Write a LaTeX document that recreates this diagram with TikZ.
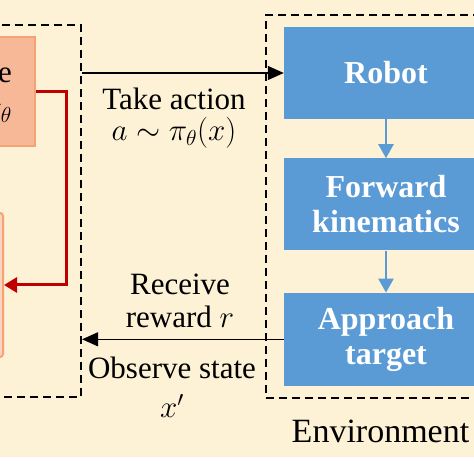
\RequirePackage{fix-cm}
\documentclass[tikz,border=0pt]{standalone}
\usepackage{fontspec}
\setmainfont{Liberation Serif}
\usepackage{xcolor}
\usepackage{tikz}
\usetikzlibrary{positioning, arrows.meta, calc}
\definecolor{creambg}{HTML}{FDF1D6}
\definecolor{stepblue}{HTML}{5B9BD5}
\definecolor{policyfill}{HTML}{F7B898}
\definecolor{policyline}{HTML}{F4A474}
\definecolor{loopred}{HTML}{C00000}

\tikzset{
  envblock/.style={fill=stepblue, text=white, font=\fontsize{32}{35}\selectfont\bfseries,
    minimum width=204pt, minimum height=92pt, inner sep=0pt, align=center},
  dashbox/.style={draw=black, line width=2.2pt, dash pattern=on 8pt off 5pt, inner sep=0pt},
  flowlabel/.style={font=\fontsize{31}{31}\selectfont, align=center, inner sep=0pt},
  flowarrow/.style={draw=black, line width=1.3pt, -{Triangle[length=16pt,width=14pt]}},
  bluearrow/.style={draw=stepblue, line width=2.5pt, -{Triangle[length=14pt,width=15pt]}}
}

\begin{document}
\begin{tikzpicture}[x=1pt, y=1pt]
    \useasboundingbox (0,0) rectangle (474,474);
    \fill[white] (0,0) rectangle (474,474);
    \fill[creambg] (0,17) rectangle (474,474);

    % agent side
    \node[dashbox, minimum width=181pt, minimum height=372pt] (agentbox) at (-9.5,263) {};
    \node[fill=policyfill, draw=policyline, line width=1.5pt, minimum width=155pt, minimum height=109pt] (policy) at (-42.5,382.5) {};
    \node[flowlabel, font=\fontsize{31}{35}\selectfont, align=right, anchor=east] (policytext) at (12,381.5) {Update\\policy $\pi_\theta$};
    \node[fill=policyfill!60, draw=policyline, line width=2pt, rounded corners=3pt, minimum width=120pt, minimum height=144pt] (valuebox) at (-57,189) {};
    \draw[loopred, line width=3pt, -{Triangle[length=13pt,width=15pt]}] (policy.east) -- ++(31,0) |- (valuebox.east);

    % environment side
    \node[dashbox, minimum width=254pt, minimum height=383pt] (envbox) at (393,267.5) {};
    \node[envblock] (robot) at (386,401) {Robot};
    \node[envblock, below=39pt of robot] (kinematics) {Forward\\kinematics};
    \node[envblock, below=42pt of kinematics, minimum height=93pt] (approach) {Approach\\target};
    \draw[bluearrow] (robot) -- (kinematics);
    \draw[bluearrow] (kinematics) -- (approach);
    \node[flowlabel, font=\fontsize{34}{36}\selectfont] (envtext) at (380.5,43) {Environment};

    % interaction
    \draw[flowarrow] (agentbox.east |- robot.west) -- (robot.west);
    \draw[flowarrow] (approach.west) -- (agentbox.east |- approach.west);
    \node[flowlabel] (actiontext) at (174,356) {Take action\\$a\sim\pi_\theta(x)$};
    \node[flowlabel, font=\fontsize{31}{33}\selectfont] (rewardtext) at (180,173) {Receive\\reward $r$};
    \node[flowlabel, font=\fontsize{31}{39}\selectfont] (statetext) at (172,87) {Observe state\\$x'$};
\end{tikzpicture}
\end{document}
